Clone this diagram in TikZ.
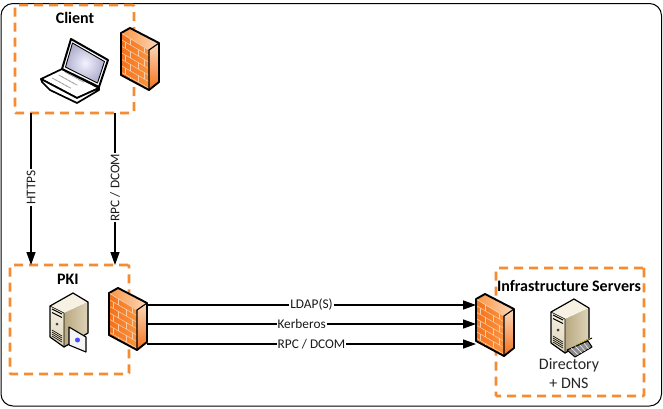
\documentclass[tikz,border=0pt]{standalone}
\usepackage{fontspec}
\setmainfont{Carlito}
\usetikzlibrary{arrows.meta}
\definecolor{dashor}{HTML}{F58B32}
\definecolor{brickA}{HTML}{F4701A}
\definecolor{brickB}{HTML}{FA9440}
\definecolor{brickL}{HTML}{FCD9BC}
\definecolor{mortar}{HTML}{FBCDA6}
\definecolor{towerF}{HTML}{F6F1E2}
\definecolor{towerG}{HTML}{DDD3B8}
\definecolor{towerS}{HTML}{B9A980}
\tikzset{
  x=1pt,y=-1pt,
  zone/.style={draw=dashor,line width=2.7pt,dash pattern=on 9pt off 6pt,inner sep=0pt,outer sep=0pt,rounded corners=1pt,anchor=north west},
  title/.style={font=\fontsize{16}{18}\selectfont\bfseries,text=black,inner sep=0pt},
  body/.style={font=\fontsize{16}{18}\selectfont,text=black!85,inner sep=0pt},
  flow/.style={line width=1.4pt,draw=black,-{Triangle[length=13pt,width=9pt]}},
  lab/.style={font=\fontsize{13.3}{15}\selectfont,fill=white,inner sep=1pt,text=black!90},
  ghost/.style={inner sep=0pt,outer sep=0pt,anchor=north west},
  pics/firewall/.style={code={
    \fill[left color=brickA,right color=brickB] (0,5)--(28,22)--(28,62)--(0,47)--cycle;
    \begin{scope}[cm={1,-0.58,0,1,(0,5)}]
      \begin{scope}[draw=mortar,line width=0.55pt]
      \foreach \v in {6.5,13,19.5,26,32.5,39}{\draw (0,\v)--(28,\v);}
      \foreach \u in {9,23}{\draw (\u,0)--(\u,6.5) (\u,13)--(\u,19.5) (\u,26)--(\u,32.5) (\u,39)--(\u,41);}
      \foreach \u in {4,17}{\draw (\u,6.5)--(\u,13) (\u,19.5)--(\u,26) (\u,32.5)--(\u,39);}
      \end{scope}
    \end{scope}
    \fill[top color=brickL,bottom color=brickA] (28,22)--(38,15)--(38,54)--(28,62)--cycle;
    \fill[left color=brickB,right color=brickL] (0,5)--(9,0)--(38,15)--(28,22)--cycle;
    \draw[line width=1.9pt,line join=round] (0,5)--(9,0)--(38,15)--(38,54)--(28,62)--(0,47)--cycle;
    \draw[line width=1.1pt,line join=round,draw=black] (28,62)--(28,22)--(38,15);
    \draw[line width=0.8pt,draw=mortar] (1,5.6)--(27,21.4);
  }},
  pics/tower/.style={code={
    \fill[top color=towerF,bottom color=towerG] (0,0)--(14,7)--(14,41)--(0,31)--cycle;
    \fill[left color=towerS,right color=towerG] (14,7)--(38,-4)--(38,27)--(14,41)--cycle;
    \fill[towerF] (0,0)--(23,-13)--(38,-4)--(14,7)--cycle;
    \draw[line width=1.2pt,line join=round] (0,0)--(23,-13)--(38,-4)--(38,27)--(14,41)--(0,31)--cycle;
    \draw[line width=0.6pt] (0,0)--(14,7)--(14,41);
    \draw[line width=1.1pt] (2,3)--(12,8) (2,6.5)--(12,11.5);
    \fill[black!75] (7,18) circle[radius=1.5pt];
    \draw[line width=0.6pt] (2,24)--(12,30) (2,26)--(12,32) (2,28)--(12,34) (2,30)--(12,36);
  }},
}
\begin{document}
\begin{tikzpicture}
\useasboundingbox (0,0) rectangle (663,408);
\fill[white] (0,0) rectangle (663,408);
\draw[line width=1pt,rounded corners=12pt] (1,3.5) rectangle (661.5,406);

% zones
\node[zone,minimum width=119pt,minimum height=108pt] (cbox) at (15,5) {};
\node[zone,minimum width=119pt,minimum height=109pt] (pbox) at (10,265) {};
\node[zone,minimum width=148pt,minimum height=128pt] (ibox) at (496,268) {};

\node[title] (tc) at (75,18) {Client};
\node[title] (tp) at (68,279) {PKI};
\node[title] (ti) at (569,286) {Infrastructure Servers};
\node[body] (d1) at (569,365) {Directory};
\node[body] (d2) at (569,383) {+ DNS};

% firewalls
\node[ghost,minimum width=38pt,minimum height=62pt] (fwc) at (121,28) {};
\begin{scope}[shift={(121,28)}]\pic {firewall};\end{scope}
\node[ghost,minimum width=38pt,minimum height=64pt] (fwp) at (109,288) {};
\begin{scope}[shift={(109,288)},yscale=1.03]\pic {firewall};\end{scope}
\node[ghost,minimum width=42pt,minimum height=68pt] (fwi) at (476,294) {};
\begin{scope}[shift={(476,294)},xscale=1.1,yscale=1.1]\pic {firewall};\end{scope}

% laptop
\node[ghost,minimum width=67pt,minimum height=64pt] (laptop) at (41,39) {};
\begin{scope}[line join=round]
  \draw[line width=1.7pt,fill=white] (41,79)--(62,69)--(99,88)--(77,98)--cycle;
  \draw[line width=1.7pt,fill=white] (41,79)--(42,82)--(50,90)--(77,103)--(99,90)--(99,88)--(77,98)--cycle;
  \foreach \a in {0,...,3}{\foreach \b in {0,...,4}{
    \draw[black!35,line width=0.8pt] ({52+\a*6.5+\b*3.6},{78-\a*3+\b*2}) -- ++(4.5,2.2);
  }}
  \draw[line width=2pt,fill=white] (62,69)--(71,39)--(108,60)--(99,87)--cycle;
  \shade[inner color=white!95!blue,outer color=blue!25!gray!50!white] (65.5,67)--(72.5,43)--(104.5,61.5)--(97.5,83)--cycle;
  \draw[line width=0.9pt] (65.5,67)--(72.5,43)--(104.5,61.5)--(97.5,83)--cycle;
\end{scope}

% servers
\node[ghost,minimum width=38pt,minimum height=54pt] (srvp) at (50,293) {};
\begin{scope}[shift={(50,306)}]\pic {tower};\end{scope}
\node[ghost,minimum width=17pt,minimum height=25pt] (card) at (69,327) {};
\draw[line width=1.1pt,fill=white!92!gray,line join=round] (69,327)--(86,337)--(86,352)--(69,345)--cycle;
\fill[blue!70!white] (77.5,340) circle[radius=2.5pt];

\node[ghost,minimum width=38pt,minimum height=56pt] (srvi) at (551,298) {};
\begin{scope}[shift={(551,312)}]\pic {tower};\end{scope}
\node[ghost,minimum width=25pt,minimum height=17pt] (kbd) at (567,340) {};
\draw[line width=1pt,fill=black!45,line join=round] (567,350)--(588,341)--(592,347)--(575,357)--cycle;
\foreach \t in {0.2,0.4,0.6,0.8}{\draw[white,line width=0.5pt] ({567+\t*21},{350-\t*9})--({575+\t*17},{357-\t*10});}
\draw[line width=1pt] (577,345)--(592,338);
\draw[yellow!70!orange,line width=0.6pt] (577,344.5)--(590,338.5);

% connectors
\coordinate (xh) at (31,0);
\coordinate (xr) at (115,0);
\coordinate (y1) at (0,305);
\coordinate (y2) at (0,324);
\coordinate (y3) at (0,344);
\draw[flow] (xh |- cbox.south) -- node[lab,rotate=90,pos=0.49]{HTTPS} (xh |- pbox.north);
\draw[flow] (xr |- cbox.south) -- node[lab,rotate=90,pos=0.49]{RPC / DCOM} (xr |- pbox.north);
\draw[flow] (fwp.east |- y1) -- node[lab,pos=0.5]{LDAP(S)} (fwi.west |- y1);
\draw[flow] (fwp.east |- y2) -- node[lab,pos=0.47]{Kerberos} (fwi.west |- y2);
\draw[flow] (fwp.east |- y3) -- node[lab,pos=0.5]{RPC / DCOM} (fwi.west |- y3);
\end{tikzpicture}
\end{document}
